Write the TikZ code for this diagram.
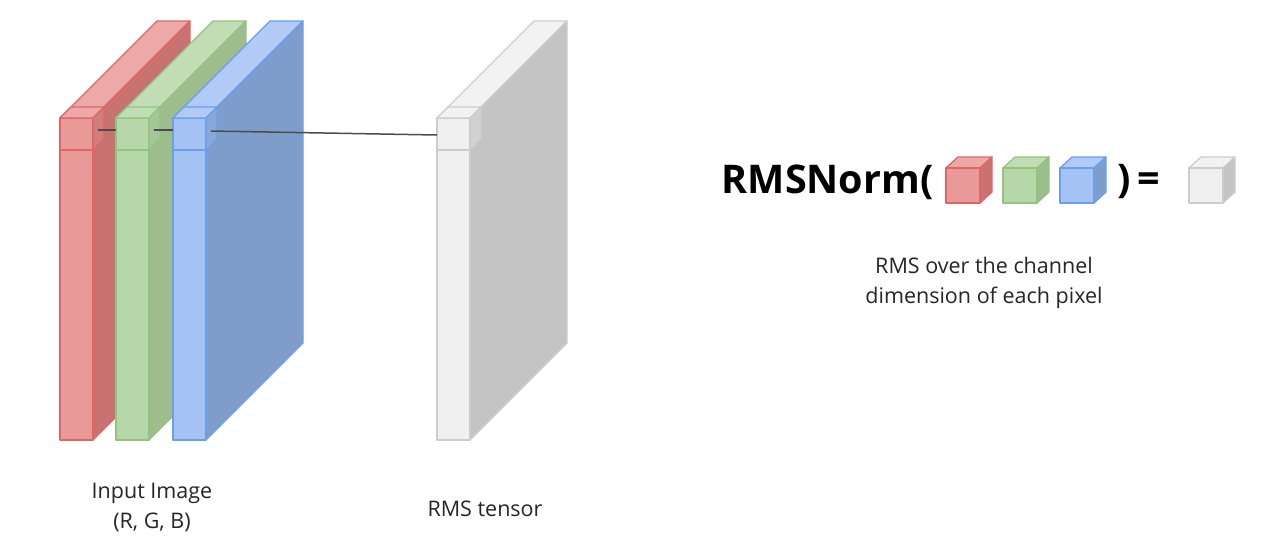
\documentclass[tikz,border=0pt]{standalone}
\usepackage{fontspec}
\setmainfont{Open Sans}
\definecolor{rF}{HTML}{EA9999}\definecolor{rS}{HTML}{C97272}\definecolor{rB}{HTML}{E06666}
\definecolor{gF}{HTML}{B6D7A8}\definecolor{gS}{HTML}{9DBD8D}\definecolor{gB}{HTML}{93C47D}
\definecolor{bF}{HTML}{A4C2F4}\definecolor{bS}{HTML}{7F9DCB}\definecolor{bB}{HTML}{6D9EEB}
\definecolor{wF}{HTML}{F0F0F0}\definecolor{wS}{HTML}{C4C4C4}\definecolor{wB}{HTML}{CCCCCC}
\newcommand{\myslab}[4]{%
 \begin{scope}[shift={(#1,0)},draw=#4,line width=1.3pt,line join=round]
  \filldraw[fill=#2!85!white] (0,-118)--(97,-21)--(130,-21)--(33,-118)--cycle;
  \filldraw[fill=#3] (33,-118)--(130,-21)--(130,-343)--(33,-440)--cycle;
  \filldraw[fill=#2] (0,-118) rectangle (33,-440);
  \draw (0,-150)--(33,-150);
  \filldraw[fill=#2!85!white] (0,-118)--(11,-107)--(44,-107)--(33,-118)--cycle;
  \filldraw[fill=#3!70!#2] (33,-118)--(44,-107)--(44,-139)--(33,-150)--cycle;
 \end{scope}}
\newcommand{\mycube}[4]{%
 \begin{scope}[shift={(#1,0)},draw=#4,line width=1.3pt,line join=round]
  \filldraw[fill=#2!85!white] (0,-168)--(12,-157)--(46,-157)--(34,-168)--cycle;
  \filldraw[fill=#3] (34,-168)--(46,-157)--(46,-192)--(34,-203)--cycle;
  \filldraw[fill=#2] (0,-168) rectangle (34,-203);
 \end{scope}}
\begin{document}
\begin{tikzpicture}[x=1pt,y=1pt,
  lbl/.style={font=\fontsize{21.5}{30}\selectfont,align=center,text=black!85},
  link/.style={draw=black!70,line width=1.5pt}]
\useasboundingbox[fill=white] (0,0) rectangle (1268,-550);
\myslab{60}{rF}{rS}{rB}
\coordinate (r) at (98,-130);
\myslab{116}{gF}{gS}{gB}
\coordinate (g1) at (116,-130); \coordinate (g) at (154,-130);
\myslab{173}{bF}{bS}{bB}
\coordinate (b1) at (173,-130); \coordinate (b) at (211,-131);
\myslab{437}{wF}{wS}{wB}
\coordinate (w) at (437,-135);
\draw[link] (r)--(g1); \draw[link] (g)--(b1); \draw[link] (b)--(w);
\node[lbl] (in) at (152,-508) {Input Image\\(R, G, B)};
\node[lbl] (rt) at (485,-509) {RMS tensor};
\node[anchor=east,font=\fontsize{39.5}{42}\selectfont\bfseries] (f) at (937,-182) {RMSNorm(};
\mycube{946}{rF}{rS}{rB}
\mycube{1003}{gF}{gS}{gB}
\mycube{1060}{bF}{bS}{bB}
\node[anchor=west,font=\fontsize{39.5}{42}\selectfont\bfseries] (eq) at (1114,-182) {)\,=};
\mycube{1189}{wF}{wS}{wB}
\node[lbl] (desc) at (984,-283) {RMS over the channel\\dimension of each pixel};
\end{tikzpicture}
\end{document}
